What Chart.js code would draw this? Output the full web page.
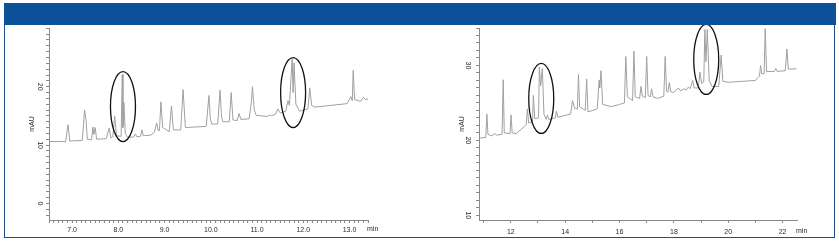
<!DOCTYPE html>
<html>
<head>
<meta charset="utf-8">
<script src="https://cdn.jsdelivr.net/npm/chart.js"></script>
<style>
  html, body { margin: 0; padding: 0; background: #fff; }
  #page { position: relative; width: 839px; height: 243px; overflow: hidden; }
  #frame { position: absolute; left: 4px; top: 3px; width: 829px; height: 233px; border: 1.5px solid #1b4f86; }
  #band { position: absolute; left: 4px; top: 3px; width: 832px; height: 22px; background: #0b5098; }
  .panel { position: absolute; top: 25px; height: 212px; }
  #left { left: 6px; width: 412px; }
  #right { left: 420px; width: 414px; }
</style>
</head>
<body>
<div id="page">
  <div id="frame"></div>
  <div id="band"></div>
  <div class="panel" id="left"><canvas id="leftChart"></canvas></div>
  <div class="panel" id="right"><canvas id="rightChart"></canvas></div>
</div>
<script>
// [time (min), signal (mAU)]
var leftTrace = [
  [6.50,10.6],[6.86,10.6],[6.91,13.5],[6.95,10.7],[7.22,10.8],[7.27,16.0],[7.30,14.4],[7.33,11.0],
  [7.42,10.9],[7.45,13.1],[7.47,11.8],[7.50,13.0],[7.53,11.0],[7.74,11.1],[7.80,12.9],[7.84,11.2],
  [7.88,11.4],[7.92,15.0],[7.96,11.6],[8.06,11.5],[8.085,22.1],[8.10,13.0],[8.12,17.3],[8.15,12.0],
  [8.20,11.3],[8.33,11.4],[8.37,11.9],[8.40,11.4],[8.48,11.5],[8.51,12.6],[8.54,11.6],[8.70,11.7],
  [8.78,12.2],[8.83,13.8],[8.86,12.5],[8.89,12.5],[8.92,17.4],[8.96,13.0],[9.10,12.3],[9.15,16.7],
  [9.19,12.6],[9.35,12.6],[9.40,19.5],[9.45,13.0],[9.90,13.2],[9.96,18.5],[9.99,14.5],[10.02,13.6],
  [10.15,13.6],[10.20,19.4],[10.23,15.0],[10.26,14.0],[10.40,14.0],[10.44,19.0],[10.48,14.3],
  [10.57,14.2],[10.61,15.4],[10.65,14.4],[10.83,14.5],[10.88,17.5],[10.90,20.0],[10.94,16.0],
  [10.98,15.1],[11.22,14.9],[11.27,15.2],[11.31,15.0],[11.40,15.3],[11.45,16.2],[11.50,15.5],
  [11.62,15.8],[11.67,17.6],[11.70,16.8],[11.76,24.8],[11.78,19.0],[11.80,24.1],[11.84,17.0],
  [11.92,15.8],[12.10,16.2],[12.14,19.8],[12.18,16.8],[12.25,16.5],[12.95,17.1],[13.03,18.3],
  [13.06,17.6],[13.08,22.8],[13.11,17.8],[13.24,17.5],[13.30,18.2],[13.34,17.8],[13.42,17.9]
];
var rightTrace = [
  [10.85,20.3],[11.08,20.4],[11.12,23.5],[11.16,20.8],[11.30,20.6],[11.42,20.9],[11.48,20.7],
  [11.68,20.8],[11.72,28.1],[11.76,21.0],[11.97,20.9],[12.01,23.4],[12.05,21.0],[12.20,20.9],
  [12.45,21.7],[12.57,22.1],[12.61,24.2],[12.66,22.3],[12.80,22.5],[12.83,26.0],[12.88,22.9],
  [13.02,23.0],[13.05,29.8],[13.10,27.3],[13.16,29.6],[13.22,23.5],[13.30,22.8],[13.35,23.4],
  [13.40,22.8],[13.64,23.0],[13.68,23.9],[13.73,23.1],[14.20,23.5],[14.27,25.3],[14.32,24.7],
  [14.34,24.3],[14.45,24.2],[14.49,28.8],[14.53,24.5],[14.74,24.0],[14.79,28.2],[14.84,23.8],
  [15.18,24.2],[15.25,28.0],[15.27,27.0],[15.32,29.3],[15.38,24.8],[15.70,24.5],[16.00,24.8],
  [16.18,25.0],[16.23,31.2],[16.29,25.8],[16.48,25.3],[16.53,31.9],[16.58,25.8],[16.74,25.6],
  [16.79,27.2],[16.84,25.9],[16.95,25.7],[17.00,31.2],[17.05,26.0],[17.13,25.8],[17.18,26.9],
  [17.23,25.8],[17.40,25.6],[17.63,25.9],[17.68,31.2],[17.73,26.6],[17.78,26.4],[17.83,27.7],
  [17.88,26.5],[18.00,26.4],[18.16,27.0],[18.25,26.6],[18.37,26.9],[18.45,26.7],[18.53,27.1],
  [18.60,26.9],[18.69,28.0],[18.75,27.0],[18.90,27.0],[18.96,29.1],[19.02,27.6],[19.10,27.8],
  [19.14,34.8],[19.18,30.5],[19.23,34.8],[19.30,28.0],[19.40,27.2],[19.65,27.2],[19.74,31.4],
  [19.80,27.9],[20.00,27.75],[21.00,28.0],[21.15,28.6],[21.19,30.0],[21.23,28.9],[21.32,28.9],
  [21.36,34.9],[21.41,29.2],[21.70,29.2],[21.75,29.6],[21.80,29.2],[22.10,29.3],[22.16,32.2],
  [22.21,29.5],[22.51,29.55]
];
var leftXLabels = [7, 8, 9, 10, 11, 12, 13];
var leftYLabels = [0, 10, 20];
var rightXLabels = [12, 14, 16, 18, 20, 22];
var rightYLabels = [10, 20, 30];
// circled peak groups [time, signal]
var leftCircled = [[8.10, 16.6], [11.78, 19.0]];
var rightCircled = [[13.12, 25.6], [19.19, 30.8]];

var fontFamily = '"Liberation Sans", Arial, sans-serif';

var extras = {
  id: 'extras',
  afterDatasetsDraw: function(chart, args, o) {
    var ctx = chart.ctx, area = chart.chartArea, x = chart.scales.x, y = chart.scales.y;
    ctx.save();
    ctx.strokeStyle = '#111';
    ctx.lineWidth = 1.3;
    o.circled.forEach(function(c) {
      ctx.beginPath();
      ctx.ellipse(x.getPixelForValue(c[0]), y.getPixelForValue(c[1]), o.rx, o.ry, 0, 0, Math.PI * 2);
      ctx.stroke();
    });
    ctx.fillStyle = '#2a2a2a';
    ctx.font = '7px ' + fontFamily;
    ctx.textBaseline = 'top';
    ctx.fillText('min', area.right + o.minDx, area.bottom + o.minDy);
    ctx.restore();
  }
};

function onStep(v, step) {
  return Math.abs(v / step - Math.round(v / step)) < 1e-6;
}

function chromatogram(id, trace, c) {
  var ctx = document.getElementById(id);
  return new Chart(ctx, {
    type: 'line',
    data: {
      datasets: [{
        data: trace.map(function(p) { return {x: p[0], y: p[1]}; }),
        borderColor: '#a0a0a0',
        borderWidth: 1,
        pointRadius: 0,
        tension: 0
      }]
    },
    plugins: [extras],
    options: {
      animation: false,
      responsive: true,
      maintainAspectRatio: false,
      layout: { padding: { left: 0, top: 3, right: c.padRight, bottom: 0 } },
      plugins: {
        legend: { display: false },
        tooltip: { enabled: false },
        extras: { circled: c.circled, rx: 12.5, ry: 35, minDx: -1, minDy: c.xPad + 3 }
      },
      scales: {
        x: {
          type: 'linear',
          min: c.xMin,
          max: c.xMax,
          afterBuildTicks: function(ax) {
            ax.ticks = ax.ticks.filter(function(t) { return onStep(t.value, c.xStep); });
          },
          afterFit: function(ax) {
            ax.height = 17;
            ax.paddingLeft = 0;
            ax.paddingRight = 0;
          },
          ticks: {
            stepSize: c.xStep,
            includeBounds: false,
            autoSkip: false,
            maxRotation: 0,
            padding: c.xPad,
            color: '#2a2a2a',
            font: { size: 7, family: fontFamily },
            callback: function(v) {
              return c.xLabels.some(function(l) { return Math.abs(l - v) < 1e-6; }) ? v.toFixed(c.xDec) : '';
            }
          },
          grid: { drawOnChartArea: false, tickLength: 3, color: '#8a8a8a' },
          border: { color: '#8a8a8a' }
        },
        y: {
          min: c.yMin,
          max: c.yMax,
          afterBuildTicks: function(ax) {
            ax.ticks = ax.ticks.filter(function(t) { return onStep(t.value, 1); });
          },
          afterFit: function(ax) {
            ax.width = c.yWidth;
            ax.paddingTop = 0;
            ax.paddingBottom = 0;
          },
          title: {
            display: true,
            text: 'mAU',
            color: '#2a2a2a',
            font: { size: 7, family: fontFamily },
            padding: { top: c.titlePad, bottom: 0 }
          },
          ticks: {
            stepSize: 1,
            includeBounds: false,
            autoSkip: false,
            minRotation: -90,
            maxRotation: -90,
            crossAlign: 'center',
            padding: c.yPad,
            color: '#2a2a2a',
            font: { size: 7, family: fontFamily },
            callback: function(v) {
              return c.yLabels.indexOf(Math.round(v)) >= 0 && onStep(v, 1) ? String(Math.round(v)) : '';
            }
          },
          grid: { drawOnChartArea: false, tickLength: 3, color: '#8a8a8a' },
          border: { color: '#8a8a8a' }
        }
      }
    }
  });
}

chromatogram('leftChart', leftTrace, {
  xMin: 6.5, xMax: 13.4, xStep: 0.1, xDec: 1, xLabels: leftXLabels, xPad: 3,
  yMin: -2.83, yMax: 30.05, yLabels: leftYLabels, yWidth: 43, yPad: 2, titlePad: 21.8,
  padRight: 50, circled: leftCircled
});
chromatogram('rightChart', rightTrace, {
  xMin: 10.83, xMax: 22.53, xStep: 1, xDec: 0, xLabels: rightXLabels, xPad: 5,
  yMin: 9.37, yMax: 35.0, yLabels: rightYLabels, yWidth: 59, yPad: 4, titlePad: 37.5,
  padRight: 37, circled: rightCircled
});
</script>
</body>
</html>
